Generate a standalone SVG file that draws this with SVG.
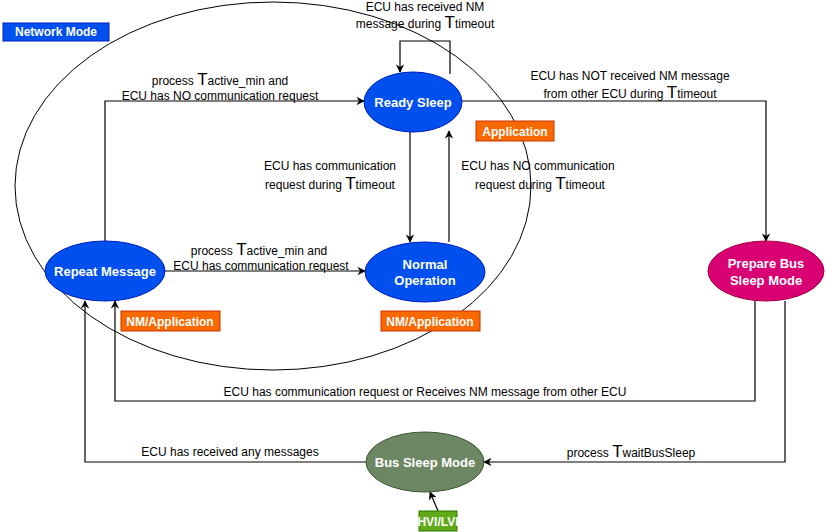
<svg xmlns="http://www.w3.org/2000/svg" width="826" height="532" viewBox="0 0 826 532">
<style>
text{font-family:"Liberation Sans",Arial,sans-serif;}
.lbl{font-size:12px;fill:#000;text-anchor:middle}
.big{font-size:17px}
.nt{font-size:13px;font-weight:bold;fill:#fff;text-anchor:middle}
.tag{font-size:12px;font-weight:bold;fill:#fff;text-anchor:middle}
.c{fill:none;stroke:#000;stroke-width:1.2}
</style>
<defs><marker id="a" viewBox="0 0 10 10" refX="9" refY="5" markerWidth="7" markerHeight="7" orient="auto"><path d="M0,0L10,5L0,10L3,5z" fill="#000"/></marker></defs>
<ellipse cx="273" cy="186" rx="258" ry="184" fill="none" stroke="#000" stroke-width="1"/>
<g id="netmode"><rect x="3" y="23" width="106" height="18" fill="#0050EF" stroke="#001DBC"/><text class="tag" x="56" y="36">Network Mode</text></g>
<g id="connectors">
<path class="c" d="M105,241V101H364" marker-end="url(#a)"/>
<path class="c" d="M450,74V41H400V72" marker-end="url(#a)"/>
<path class="c" d="M462,101H766V241" marker-end="url(#a)"/>
<path class="c" d="M410,131V242" marker-end="url(#a)"/>
<path class="c" d="M449,242V131" marker-end="url(#a)"/>
<path class="c" d="M165,271H365" marker-end="url(#a)"/>
<path class="c" d="M755,301V401H115V301" marker-end="url(#a)"/>
<path class="c" d="M785,301V462H484" marker-end="url(#a)"/>
<path class="c" d="M366,462H85V301" marker-end="url(#a)"/>
<path class="c" d="M438,511L430,492" marker-end="url(#a)"/>
<text class="lbl" x="220" y="85">process <tspan class="big">T</tspan>active_min and</text>
<text class="lbl" x="220" y="100">ECU has NO communication request</text>
<text class="lbl" x="425" y="11">ECU has received NM</text>
<text class="lbl" x="425" y="28">message during <tspan class="big">T</tspan>timeout</text>
<text class="lbl" x="630" y="80">ECU has NOT received NM message</text>
<text class="lbl" x="630" y="98">from other ECU during <tspan class="big">T</tspan>timeout</text>
<text class="lbl" x="330" y="170">ECU has communication</text>
<text class="lbl" x="330" y="189">request during <tspan class="big">T</tspan>timeout</text>
<text class="lbl" x="538" y="170">ECU has NO communication</text>
<text class="lbl" x="540" y="189">request during <tspan class="big">T</tspan>timeout</text>
<text class="lbl" x="259" y="255">process <tspan class="big">T</tspan>active_min and</text>
<text class="lbl" x="261" y="270">ECU has communication request</text>
<text class="lbl" x="425" y="396">ECU has communication request or Receives NM message from other ECU</text>
<text class="lbl" x="631" y="457">process <tspan class="big">T</tspan>waitBusSleep</text>
<text class="lbl" x="230" y="456">ECU has received any messages</text>
</g>
<g id="ready"><ellipse cx="413" cy="102" rx="49" ry="30" fill="#0050EF" stroke="#001DBC"/><text class="nt" x="413" y="107">Ready Sleep</text></g>
<g id="normal"><ellipse cx="425" cy="272" rx="60" ry="30" fill="#0050EF" stroke="#001DBC"/><text class="nt" x="425" y="269">Normal</text><text class="nt" x="425" y="285">Operation</text></g>
<g id="repeat"><ellipse cx="105" cy="271" rx="60" ry="30" fill="#0050EF" stroke="#001DBC"/><text class="nt" x="105" y="276">Repeat Message</text></g>
<g id="prepare"><ellipse cx="766" cy="271" rx="58" ry="30" fill="#D80073" stroke="#A50040"/><text class="nt" x="766" y="268">Prepare Bus</text><text class="nt" x="766" y="285">Sleep Mode</text></g>
<g id="bussleep"><ellipse cx="425" cy="462" rx="59" ry="30" fill="#6D8764" stroke="#3A5431"/><text class="nt" x="425" y="467">Bus Sleep Mode</text></g>
<g id="app"><rect x="476" y="121" width="78" height="20" fill="#FA6800" stroke="#C73500"/><text class="tag" x="515" y="136">Application</text></g>
<g id="nmapp1"><rect x="121" y="311" width="99" height="20" fill="#FA6800" stroke="#C73500"/><text class="tag" x="170" y="326">NM/Application</text></g>
<g id="nmapp2"><rect x="381" y="311" width="99" height="20" fill="#FA6800" stroke="#C73500"/><text class="tag" x="430" y="326">NM/Application</text></g>
<g id="hvi"><rect x="419" y="511" width="38" height="20" fill="#60A917" stroke="#2D7600"/><text class="tag" x="438" y="526">HVI/LVI</text></g>
</svg>
